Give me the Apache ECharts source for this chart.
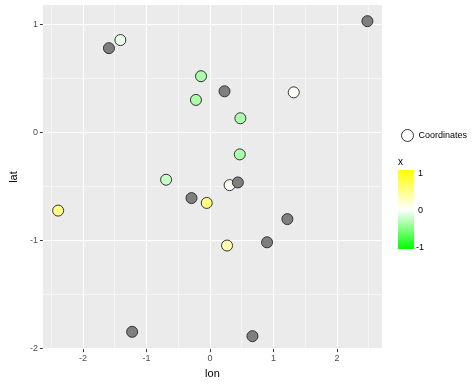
<!DOCTYPE html>
<html><head><meta charset="utf-8">
<script src="https://cdn.jsdelivr.net/npm/echarts@6/dist/echarts.min.js"></script>
<style>html,body{margin:0;padding:0;background:#fff}#c{width:474px;height:384px}</style>
</head><body><div id="c"></div>
<script>
var lon = [-1.59, -1.41, -0.14, -0.22, -0.69, 2.48, 0.23, 1.32, 0.48, 0.47, 0.31, 0.44, -0.29, -0.05, -2.39, 1.22, 0.27, 0.90, -1.225, 0.67];
var lat = [0.78, 0.855, 0.52, 0.30, -0.44, 1.03, 0.38, 0.37, 0.13, -0.205, -0.49, -0.465, -0.61, -0.655, -0.726, -0.805, -1.05, -1.02, -1.85, -1.89];
var xval = [null, -0.09, -0.33, -0.33, -0.22, null, null, 0.02, -0.33, -0.33, 0.02, null, null, 0.5, 0.5, null, 0.31, null, null, null];
var xTicks = [-2, -1, 0, 1, 2];
var yTicks = [-2, -1, 0, 1];
var xMinor = [-2.5, -1.5, -0.5, 0.5, 1.5, 2.5];
var yMinor = [-1.5, -0.5, 0.5];
var xLim = [-2.63, 2.71];
var yLim = [-2.01, 1.18];
var legendTicks = ['1', '0', '-1'];

var withX = [], naPts = [];
for (var i = 0; i < lon.length; i++) {
  if (xval[i] === null) naPts.push([lon[i], lat[i]]);
  else withX.push([lon[i], lat[i], xval[i]]);
}

var gridLines = [];
xMinor.forEach(function(v){ gridLines.push({xAxis: v, lineStyle:{width:0.5}}); });
yMinor.forEach(function(v){ gridLines.push({yAxis: v, lineStyle:{width:0.5}}); });
xTicks.forEach(function(v){ gridLines.push({xAxis: v, lineStyle:{width:1.1}}); });
yTicks.forEach(function(v){ gridLines.push({yAxis: v, lineStyle:{width:1.1}}); });

var chart = echarts.init(document.getElementById('c'), null, {renderer:'canvas'});
var axisCommon = {
  type: 'value', splitLine: {show:false},
  axisLine: {show:false, onZero:false},
  axisTick: {show:true, length:3, lineStyle:{color:'#333', width:1}},
  axisLabel: {color:'#4d4d4d', fontSize:9, fontFamily:'Liberation Sans, Arial', margin:5},
  nameTextStyle: {color:'#000', fontSize:11, fontFamily:'Liberation Sans, Arial'},
  nameLocation: 'middle'
};
chart.setOption({
  animation: false,
  grid: {left:31, top:5, right:92, bottom:32, show:true, backgroundColor:'#ebebeb', borderWidth:0, z:0},
  xAxis: Object.assign({}, axisCommon, {min:xLim[0], max:xLim[1], name:'lon', nameGap:16,
    axisTick: Object.assign({}, axisCommon.axisTick, {customValues: xTicks}),
    axisLabel: Object.assign({}, axisCommon.axisLabel, {customValues: xTicks})}),
  yAxis: Object.assign({}, axisCommon, {min:yLim[0], max:yLim[1], name:'lat', nameGap:20,
    axisTick: Object.assign({}, axisCommon.axisTick, {customValues: yTicks}),
    axisLabel: Object.assign({}, axisCommon.axisLabel, {customValues: yTicks})}),
  legend: {
    left: 396, top: 124, itemWidth: 12, itemHeight: 12, itemGap: 4,
    icon: 'circle',
    textStyle: {fontSize: 9, color:'#000', fontFamily:'Liberation Sans, Arial'},
    data: [{name:'Coordinates', itemStyle:{color:'#fff', borderColor:'#333', borderWidth:1}}]
  },
  visualMap: {
    type:'continuous', min:-1, max:1, dimension:2, seriesIndex:1,
    inRange:{color:['#00ff00', '#ffffff', '#ffff00']},
    show:false
  },
  series: [
    {type:'scatter', name:'grid', data:[], z:1, silent:true,
     markLine:{silent:true, z:1, symbol:'none', label:{show:false}, animation:false,
       lineStyle:{color:'#ffffff', type:'solid'}, data: gridLines}},
    {type:'scatter', name:'Coordinates', z:3, symbolSize:11, data: withX,
     itemStyle:{borderColor:'#333', borderWidth:1, opacity:1}},
    {type:'scatter', name:'Coordinates', z:4, symbolSize:11, data: naPts,
     itemStyle:{color:'#7f7f7f', borderColor:'#333', borderWidth:1, opacity:1}}
  ],
  graphic: [
    {type:'text', left:398, top:157, style:{text:'x', fontSize:10, fill:'#000', font:'10px Liberation Sans, Arial'}},
    {type:'rect', shape:{x:398, y:170, width:16, height:79},
     style:{fill: new echarts.graphic.LinearGradient(0,0,0,1,[
       {offset:0, color:'#ffff00'}, {offset:0.5, color:'#ffffff'}, {offset:1, color:'#00ff00'}])}},
    {type:'text', x:418, y:174, style:{text:legendTicks[0], font:'9px Liberation Sans, Arial', fill:'#000', verticalAlign:'middle'}},
    {type:'text', x:418, y:211, style:{text:legendTicks[1], font:'9px Liberation Sans, Arial', fill:'#000', verticalAlign:'middle'}},
    {type:'text', x:416, y:248, style:{text:legendTicks[2], font:'9px Liberation Sans, Arial', fill:'#000', verticalAlign:'middle'}}
  ]
});
</script></body></html>
